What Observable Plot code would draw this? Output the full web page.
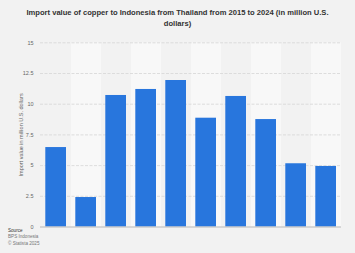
<!DOCTYPE html>
<html>
<head>
<meta charset="utf-8">
<script src="https://cdn.jsdelivr.net/npm/d3@7"></script>
<script src="https://cdn.jsdelivr.net/npm/@observablehq/plot@0.6"></script>
<style>
  html, body { margin: 0; padding: 0; background: #f2f2f2; }
  body { width: 355px; height: 253px; position: relative; overflow: hidden; font-family: "Liberation Sans", Arial, sans-serif; }
  #title { position: absolute; top: 7px; left: 20px; width: 315px; text-align: center; font-weight: bold; font-size: 7.6px; line-height: 11px; color: #333; }
  #chart { position: absolute; top: 0; left: 0; }
  #footer { position: absolute; left: 8px; top: 228px; font-size: 4.6px; line-height: 6.3px; color: #777; }
  #footer .src { color: #333; }
</style>
</head>
<body>
<div id="title">Import value of copper to Indonesia from Thailand from 2015 to 2024 (in million U.S. dollars)</div>
<div id="chart"></div>
<div id="footer"><div class="src">Source</div><div>BPS Indonesia</div><div>© Statista 2025</div></div>
<script>
const years = ["2015","2016","2017","2018","2019","2020","2021","2022","2023","2024"];
const values = [6.47, 2.4, 10.71, 11.2, 11.93, 8.86, 10.63, 8.75, 5.15, 4.93];
const yTicks = [0, 2.5, 5, 7.5, 10, 12.5, 15];
const yTickLabels = ["0", "2.5", "5", "7.5", "10", "12.5", "15"];
const yLabel = "Import value in million U.S. dollars";

const data = years.map((y, i) => ({year: y, value: values[i]}));
const stripes = years.filter((y, i) => i % 2 === 1);

const chart = Plot.plot({
  width: 355,
  height: 253,
  marginTop: 42.3,
  marginBottom: 26.5,
  marginLeft: 40,
  marginRight: 14,
  style: {background: "transparent", fontFamily: "Liberation Sans, Arial, sans-serif"},
  x: {domain: years, padding: 0, axis: null},
  y: {domain: [0, 15], ticks: yTicks},
  marks: [
    Plot.barY(stripes, {x: d => d, y1: 0, y2: 15, fill: "#f8f8f8", inset: 0}),
    Plot.ruleY(yTicks.filter(t => t > 0), {stroke: "#d6d6d6", strokeWidth: 0.8, strokeDasharray: "3,1.5"}),
    Plot.axisY({ticks: yTicks, tickFormat: (d, i) => yTickLabels[yTicks.indexOf(d)], tickSize: 0, tickPadding: 7, fontSize: 5.5, color: "#666", label: yLabel, labelAnchor: "center", labelArrow: "none", labelOffset: 21}),
    Plot.barY(data, {x: "year", y: "value", fill: "#2876dd", insetLeft: 4.3, insetRight: 5}),
    Plot.ruleY([0], {stroke: "#b8b8b8", strokeWidth: 1})
  ]
});
document.getElementById("chart").appendChild(chart);
</script>
</body>
</html>
